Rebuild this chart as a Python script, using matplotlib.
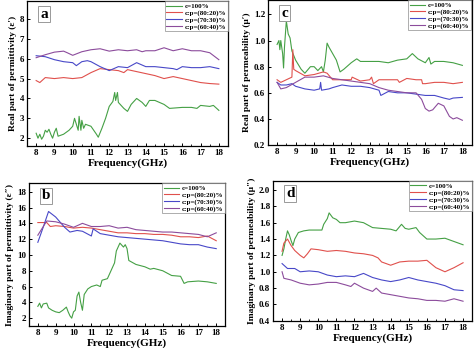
import matplotlib
matplotlib.use("Agg")
import matplotlib.pyplot as plt
from matplotlib.ticker import MultipleLocator

plt.rcParams['font.family'] = ['Liberation Serif', 'DejaVu Serif']
plt.rcParams['font.weight'] = 'bold'

labels = ["c=100%", "c:p=(80:20)%", "c:p=(70:30)%", "c:p=(60:40)%"]
colors = ["#45a045", "#e0504c", "#4848c8", "#8c4c9c"]

# ---- panel a : real permittivity
a_f_green = [8, 8.1, 8.2, 8.3, 8.4, 8.5, 8.6, 8.7, 8.8, 8.9, 9.0, 9.1, 9.2, 9.5, 9.8, 10.0, 10.1, 10.2,
             10.3, 10.35, 10.45, 10.5, 10.6, 10.7, 11.0, 11.3, 11.4, 11.6, 11.8, 12.0, 12.2, 12.3, 12.35,
             12.45, 12.5, 12.7, 12.8, 13.0, 13.2, 13.5, 13.8, 14.0, 14.2, 14.5, 15.0, 15.3, 16.0, 16.5,
             16.8, 17.0, 17.5, 17.7, 18.0]
a_v_green = [2.25, 2.0, 2.2, 1.95, 2.1, 2.4, 2.3, 2.45, 2.2, 2.0, 2.3, 2.5, 2.1, 2.2, 2.4, 2.6, 3.0, 2.7,
             2.4, 3.1, 2.4, 2.9, 2.5, 2.7, 2.6, 2.2, 2.05, 2.5, 3.0, 3.6, 3.85, 4.3, 3.9,
             4.3, 3.8, 3.6, 3.5, 3.35, 3.7, 4.0, 3.8, 3.6, 3.9, 3.9, 3.7, 3.5, 3.55, 3.55,
             3.5, 3.65, 3.6, 3.65, 3.4]
a_f_red = [8, 8.2, 8.5, 9, 9.5, 10, 10.5, 11, 11.5, 12, 12.5, 12.8, 13, 13.5, 14, 14.5, 15, 15.5, 16,
           16.5, 17, 17.5, 18]
a_v_red = [4.9, 4.8, 5.05, 5.0, 5.05, 5.0, 5.05, 5.3, 5.5, 5.45, 5.4, 5.3, 5.45, 5.35, 5.25, 5.15, 5.0,
           5.1, 5.0, 4.9, 4.8, 4.75, 4.72]
a_f_blue = [8, 8.5, 9, 9.5, 10, 10.2, 10.5, 10.8, 11, 11.5, 12, 12.5, 13, 13.5, 14, 14.5, 15, 15.5,
            15.7, 16, 16.5, 17, 17.5, 18]
a_v_blue = [6.15, 6.1, 5.95, 5.85, 5.8, 5.65, 5.85, 5.9, 5.85, 5.6, 5.4, 5.6, 5.55, 5.8, 5.6, 5.6,
            5.55, 5.5, 5.45, 5.6, 5.55, 5.55, 5.6, 5.5]
a_f_purple = [8, 8.5, 9, 9.5, 9.7, 10, 10.5, 11, 11.5, 12, 12.5, 13, 13.5, 13.8, 14, 14.5, 15, 15.5,
              16, 16.5, 17, 17.5, 18]
a_v_purple = [6.05, 6.2, 6.33, 6.38, 6.3, 6.17, 6.35, 6.45, 6.5, 6.38, 6.45, 6.4, 6.45, 6.35, 6.4,
              6.4, 6.55, 6.4, 6.5, 6.4, 6.4, 6.3, 5.95]

# ---- panel b : imaginary permittivity
b_f_green = [8, 8.1, 8.2, 8.3, 8.5, 8.6, 8.8, 9.0, 9.2, 9.4, 9.6, 9.7, 9.8, 9.9, 10.0, 10.1, 10.2,
             10.3, 10.4, 10.5, 10.6, 10.8, 11.0, 11.3, 11.5, 11.6, 11.9, 12.1, 12.3, 12.4, 12.6, 12.8,
             12.9, 13.0, 13.1, 13.5, 14.0, 14.3, 14.5, 15.0, 15.5, 16.0, 16.2, 16.4, 17.0, 17.5, 18.0]
b_v_green = [3.5, 3.9, 3.3, 3.8, 3.9, 3.3, 3.0, 2.8, 2.7, 3.0, 3.4, 2.8, 2.3, 2.0, 2.8, 3.0, 4.8,
             5.3, 4.0, 3.0, 5.0, 5.7, 6.0, 6.2, 6.0, 6.8, 7.0, 8.0, 9.0, 10.5, 11.5, 11.0,
             11.3, 10.8, 9.3, 8.8, 8.5, 8.2, 8.3, 8.0, 7.4, 7.3, 6.4, 6.6, 6.7, 6.6, 6.4]
b_f_red = [8, 8.5, 8.7, 9, 9.5, 10, 10.5, 11, 11.5, 12, 12.5, 13, 13.5, 14, 14.5, 15, 15.5, 16,
           16.5, 17, 17.5, 18]
b_v_red = [14.1, 14.1, 13.6, 13.7, 13.6, 13.4, 13.5, 13.4, 13.2, 13.0, 12.8, 12.8, 12.7, 12.7, 12.6,
           12.6, 12.5, 12.3, 12.3, 12.2, 12.4, 11.8]
b_f_blue = [8, 8.3, 8.6, 9, 9.5, 9.8, 10.2, 10.5, 11, 11.1, 11.5, 12, 12.5, 13, 13.5, 14, 14.5, 15,
            15.5, 16, 16.5, 17, 17.5, 18]
b_v_blue = [11.6, 13.5, 15.5, 14.8, 13.5, 12.9, 13.1, 13.0, 12.4, 13.3, 12.7, 12.5, 12.3, 12.2, 12.1,
            12.0, 11.9, 11.8, 11.6, 11.4, 11.3, 11.3, 11.0, 10.8]
b_f_purple = [8, 8.5, 9, 9.5, 10, 10.5, 11, 11.5, 12, 12.5, 13, 13.5, 14, 14.5, 15, 15.5, 16, 16.5,
              17, 17.5, 18]
b_v_purple = [12.5, 14.3, 14.2, 13.9, 13.5, 14.0, 13.6, 13.6, 13.7, 13.4, 13.5, 13.2, 13.1, 13.0,
              12.9, 12.9, 12.8, 12.7, 12.6, 12.3, 12.8]

# ---- panel c : real permeability
c_f_green = [8, 8.1, 8.15, 8.2, 8.3, 8.35, 8.4, 8.5, 8.6, 8.7, 8.8, 9.0, 9.3, 9.5, 9.8, 10.0, 10.2,
             10.4, 10.5, 10.6, 10.7, 10.8, 11.0, 11.2, 11.4, 11.6, 12.0, 12.3, 12.5, 13, 13.5, 14,
             14.5, 15, 15.3, 15.6, 16, 16.2, 16.3, 16.5, 17, 17.5, 18]
c_v_green = [0.97, 1.0, 0.93, 1.0, 0.9, 0.79, 0.95, 1.15, 1.05, 1.02, 0.92, 0.85, 0.78, 0.75, 0.8,
             0.8, 0.77, 0.8, 0.76, 0.85, 0.98, 0.95, 0.9, 0.85, 0.76, 0.78, 0.83, 0.86, 0.84, 0.84,
             0.84, 0.83, 0.85, 0.86, 0.9, 0.86, 0.83, 0.87, 0.82, 0.84, 0.84, 0.83, 0.81]
c_f_red = [8, 8.2, 8.5, 8.8, 8.85, 8.9, 9.0, 9.5, 10, 10.5, 10.7, 11, 11.5, 12, 12.05, 12.5, 13, 13.1,
           13.2, 13.5, 14, 14.5, 14.6, 15, 15.5, 15.8, 15.85, 16, 16.5, 17, 17.5, 18]
c_v_red = [0.7, 0.68, 0.7, 0.72, 0.93, 0.78, 0.77, 0.73, 0.74, 0.76, 0.75, 0.7, 0.7, 0.7, 0.72, 0.69,
           0.7, 0.72, 0.67, 0.7, 0.7, 0.7, 0.68, 0.71, 0.7, 0.7, 0.67, 0.67, 0.68, 0.68, 0.67, 0.68]
c_f_blue = [8, 8.2, 8.5, 8.8, 9.0, 9.5, 10, 10.3, 10.35, 10.4, 10.8, 11, 11.5, 12, 12.5, 13, 13.5,
            13.6, 14, 14.5, 15, 15.5, 16, 16.5, 17, 17.3, 17.5, 18]
c_v_blue = [0.68, 0.66, 0.66, 0.67, 0.65, 0.63, 0.62, 0.63, 0.68, 0.62, 0.63, 0.64, 0.66, 0.65, 0.65,
            0.64, 0.62, 0.58, 0.61, 0.6, 0.6, 0.59, 0.58, 0.58, 0.56, 0.55, 0.56, 0.565]
c_f_purple = [8, 8.2, 8.5, 9.0, 9.5, 10, 10.5, 11, 11.5, 12, 12.5, 13, 13.5, 14, 14.5, 15, 15.5, 15.8,
              16, 16.2, 16.4, 16.7, 17, 17.3, 17.5, 17.7, 18]
c_v_purple = [0.68, 0.63, 0.64, 0.68, 0.72, 0.72, 0.73, 0.71, 0.7, 0.69, 0.68, 0.67, 0.64, 0.62, 0.61,
              0.6, 0.6, 0.55, 0.48, 0.46, 0.47, 0.52, 0.5, 0.42, 0.4, 0.41, 0.39]

# ---- panel d : imaginary permeability
d_f_green = [8, 8.1, 8.2, 8.3, 8.4, 8.5, 8.6, 8.7, 8.9, 9.2, 9.5, 10, 10.2, 10.3, 10.5, 10.6, 10.8, 11,
             11.2, 11.5, 12, 12.5, 13, 13.5, 14, 14.3, 14.6, 14.8, 15, 15.4, 15.6, 16, 16.5, 17, 17.5, 18]
d_v_green = [1.2, 1.28, 1.4, 1.5, 1.45, 1.38, 1.32, 1.4, 1.48, 1.5, 1.51, 1.51, 1.51, 1.58, 1.65, 1.72,
             1.66, 1.64, 1.6, 1.6, 1.62, 1.6, 1.54, 1.53, 1.52, 1.5, 1.58, 1.53, 1.52, 1.54, 1.48, 1.4,
             1.4, 1.41, 1.37, 1.33]
d_f_red = [8, 8.1, 8.3, 8.5, 8.7, 9.0, 9.2, 9.4, 9.6, 10, 10.5, 11, 11.5, 12, 12.5, 13, 13.3, 13.5, 14,
           14.5, 15, 15.5, 16, 16.5, 17, 17.5, 18]
d_v_red = [1.25, 1.35, 1.4, 1.32, 1.26, 1.2, 1.17, 1.22, 1.28, 1.27, 1.25, 1.26, 1.25, 1.23, 1.22, 1.2,
           1.17, 1.12, 1.08, 1.12, 1.13, 1.13, 1.14, 1.05, 1.0, 1.05, 1.11]
d_f_blue = [8, 8.3, 8.7, 9, 9.5, 10, 10.5, 11, 11.5, 12, 12.5, 13, 13.5, 14, 14.5, 15, 15.5, 16, 16.5,
            17, 17.5, 18]
d_v_blue = [1.1, 1.04, 1.04, 1.0, 1.01, 1.0, 0.96, 0.94, 0.95, 0.94, 0.98, 0.93, 0.9, 0.88, 0.9, 0.93,
            0.9, 0.88, 0.86, 0.83, 0.78, 0.77]
d_f_purple = [8, 8.1, 8.5, 9, 9.5, 10, 10.5, 11, 11.5, 11.8, 12, 12.5, 13, 13.2, 13.5, 14, 14.5, 15,
              15.5, 16, 16.5, 17, 17.5, 18]
d_v_purple = [1.0, 0.92, 0.9, 0.86, 0.84, 0.85, 0.87, 0.87, 0.84, 0.82, 0.86, 0.8, 0.76, 0.8, 0.74,
              0.72, 0.7, 0.68, 0.67, 0.65, 0.65, 0.64, 0.67, 0.64]

panels = [
    dict(rect=[0.057, 0.580, 0.424, 0.417], tag="a", ylim=(1.6, 8.9), ystep=1, fmt="%d",
         ylabel="Real part of permittivity (ε′)",
         series=[(a_f_green, a_v_green), (a_f_red, a_v_red), (a_f_blue, a_v_blue), (a_f_purple, a_v_purple)]),
    dict(rect=[0.061, 0.063, 0.414, 0.411], tag="b", ylim=(1.0, 19.1), ystep=2, fmt="%d",
         ylabel="Imaginary part of permittivity (ε″)",
         series=[(b_f_green, b_v_green), (b_f_red, b_v_red), (b_f_blue, b_v_blue), (b_f_purple, b_v_purple)]),
    dict(rect=[0.565, 0.583, 0.430, 0.417], tag="c", ylim=(0.2, 1.31), ystep=0.2, fmt="%.1f",
         ylabel="Real part of permeability (μ′)",
         series=[(c_f_green, c_v_green), (c_f_red, c_v_red), (c_f_blue, c_v_blue), (c_f_purple, c_v_purple)]),
    dict(rect=[0.576, 0.078, 0.420, 0.402], tag="d", ylim=(0.4, 2.11), ystep=0.2, fmt="%.1f",
         ylabel="Imaginary part of permeability (μ″)",
         series=[(d_f_green, d_v_green), (d_f_red, d_v_red), (d_f_blue, d_v_blue), (d_f_purple, d_v_purple)]),
]

fig = plt.figure(figsize=(4.74, 3.48), dpi=100)
for p in panels:
    ax = fig.add_axes(p["rect"])
    for (f, v), c, lab in zip(p["series"], colors, labels):
        ax.plot(f, v, color=c, lw=0.8, label=lab)
    ax.set_xlim(7.5, 18.5)
    ax.set_ylim(*p["ylim"])
    ax.xaxis.set_major_locator(MultipleLocator(1))
    ax.xaxis.set_minor_locator(MultipleLocator(0.5))
    ax.yaxis.set_major_locator(MultipleLocator(p["ystep"]))
    ax.yaxis.set_major_formatter(matplotlib.ticker.FormatStrFormatter(p["fmt"]))
    ax.tick_params(direction="in", length=2.5, width=0.7, labelsize=6.5, pad=2)
    ax.tick_params(which="minor", direction="in", length=1.5, width=0.6)
    for s in ax.spines.values():
        s.set_linewidth(0.9)
    ax.set_xlabel("Frequency(GHz)", fontsize=8, fontweight="bold", labelpad=1)
    ax.set_ylabel(p["ylabel"], fontsize=6.8, fontweight="bold", labelpad=2)
    ax.text(0.065, 0.955, p["tag"], transform=ax.transAxes, ha="left", va="top",
            fontsize=11, fontweight="bold",
            bbox=dict(boxstyle="square,pad=0.12", fc="white", ec="#999999", lw=0.7))
    leg = ax.legend(loc="upper right", fontsize=5, frameon=True, fancybox=False,
                    edgecolor="#888888", borderaxespad=0.05, handlelength=2.2,
                    labelspacing=0.1, borderpad=0.25, handletextpad=0.4)
    leg.get_frame().set_linewidth(0.6)

fig.savefig("out.png", dpi=100)
